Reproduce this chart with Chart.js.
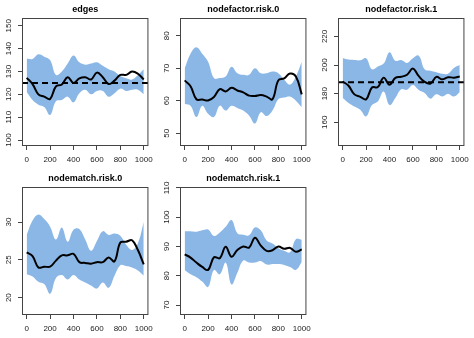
<!DOCTYPE html>
<html>
<head>
<meta charset="utf-8">
<title>Network diagnostics</title>
<script src="https://cdn.jsdelivr.net/npm/chart.js@4.4.1/dist/chart.umd.min.js"></script>
<style>
  html, body { margin: 0; padding: 0; background: #fff; }
  #grid { position: relative; width: 474px; height: 338px; }
  .panel { position: absolute; width: 158px; height: 169px; }
</style>
</head>
<body>
<div id="grid"></div>
<script>
// -------------------------------------------------------------
// DATA: smoothed mean and quantile band per statistic, every 50 steps
// -------------------------------------------------------------
const steps = [0, 50, 100, 150, 200, 250, 300, 350, 400, 450, 500,
               550, 600, 650, 700, 750, 800, 850, 900, 950, 1000];
const xTicks = [0, 200, 400, 600, 800, 1000];

const edgesMean = [127.2, 124.5, 120, 119, 118, 123.5, 124.3, 127.5, 125, 127, 127.5,
                   126.5, 129.5, 127.5, 124.5, 126, 128.5, 128.5, 130, 129, 126.5];
const edgesHi   = [135.7, 135.5, 137.5, 136.5, 135, 128.5, 130, 133.5, 137, 134, 133,
                   133.5, 134, 132.5, 131, 130, 128, 127, 126.5, 128.5, 131];
const edgesLo   = [121, 117.5, 115.5, 114.5, 111, 117, 117.5, 119, 116.5, 120.5, 122,
                   120, 121.5, 121.5, 119, 120.5, 122.5, 121.5, 122, 122, 120];
const edgesTarget = 125;
const edgesTicks = [100, 110, 120, 130, 140, 150];

const nf0Mean = [66.3, 64.5, 60.5, 60.4, 60.1, 61.2, 63.6, 62.9, 64, 63.2, 62.6,
                 61.6, 61.5, 61.8, 61.3, 60.5, 66.3, 66.9, 68.4, 67.5, 62];
const nf0Hi   = [70, 74.5, 76.5, 74.5, 72, 67, 67, 67.5, 70.5, 68.5, 68,
                 68, 70, 68.5, 68.5, 69, 68.5, 66.5, 65, 67.5, 72];
const nf0Lo   = [59, 58.5, 55, 58.5, 56, 55, 58.5, 57, 58.5, 57.8, 57,
                 55.5, 53, 56.5, 55.3, 57, 60.5, 61, 61.3, 60, 58];
const nf0Ticks = [50, 60, 70, 80];

const nf1Mean = [188.5, 185.5, 179.5, 177.8, 176, 184.3, 184.6, 191.2, 186.3, 191, 191.8,
                 193.2, 197.5, 192.2, 188.2, 187, 191.7, 190, 191.5, 191.2, 192];
const nf1Hi   = [205, 203.8, 203.5, 203.3, 204.8, 197, 199, 201, 209, 203, 203.5,
                 201.5, 204.8, 206.5, 197, 196, 195, 194, 194, 198, 200];
const nf1Lo   = [177, 173.5, 171, 168.7, 164, 172, 174.5, 181.5, 172, 177, 183,
                 182.7, 186, 182.5, 180.4, 176.5, 179.5, 178, 180, 178, 181];
const nf1Target = 188;
const nf1Ticks = [160, 180, 200, 220];

const nm0Mean = [26, 25.5, 24, 24.1, 24.1, 24.9, 25.6, 25.6, 25.8, 24.7, 24.6,
                 24.5, 24.7, 24.7, 25.3, 24.8, 27.3, 27.4, 27.6, 26.3, 24.4];
const nm0Hi   = [28.3, 30.2, 31, 30.4, 29.4, 27.7, 29.3, 27.4, 29, 29.1, 27.7,
                 26.2, 27.5, 28.8, 28.3, 28.5, 28.2, 27, 26.3, 27.2, 30];
const nm0Lo   = [23.1, 22.8, 22.1, 21.8, 20.5, 22.6, 23, 22.4, 23, 22.4, 22,
                 21.6, 21.2, 22, 21.3, 22.9, 24.3, 24.2, 24, 23.6, 22.9];
const nm0Ticks = [20, 25, 30];

const nm1Mean = [87.3, 86.2, 84.5, 83, 82, 86.3, 86, 89.9, 86.5, 88.8, 90,
                 89.6, 93, 90.3, 88.5, 88.7, 90, 89.2, 89.5, 88.2, 89];
const nm1Hi   = [95.2, 95.2, 95, 95.5, 95.8, 93.6, 94.8, 96.7, 99, 94.5, 94,
                 93.8, 96.5, 95.5, 92, 91, 89.5, 88.5, 88, 92.5, 92.3];
const nm1Lo   = [82, 80.5, 79.5, 78, 76.2, 82, 80.5, 84.5, 77, 81, 85.2,
                 84.5, 84.5, 85, 83.8, 84, 84, 83.7, 83, 82, 84.7];
const nm1Ticks = [70, 80, 90, 100, 110];

// R-style axis range: 4% padding on each side of 0..1000
const X_MIN = -40, X_MAX = 1040;

const panels = [
    { title: 'edges',             mean: edgesMean, hi: edgesHi, lo: edgesLo, target: edgesTarget, yTicks: edgesTicks, yMin: 97.4,  yMax: 153.4 },
    { title: 'nodefactor.risk.0', mean: nf0Mean,   hi: nf0Hi,   lo: nf0Lo,   target: null,        yTicks: nf0Ticks,   yMin: 46.1,  yMax: 85.5 },
    { title: 'nodefactor.risk.1', mean: nf1Mean,   hi: nf1Hi,   lo: nf1Lo,   target: nf1Target,   yTicks: nf1Ticks,   yMin: 143.4, yMax: 232.9 },
    { title: 'nodematch.risk.0',  mean: nm0Mean,   hi: nm0Hi,   lo: nm0Lo,   target: null,        yTicks: nm0Ticks,   yMin: 17.7,  yMax: 34.65 },
    { title: 'nodematch.risk.1',  mean: nm1Mean,   hi: nm1Hi,   lo: nm1Lo,   target: null,        yTicks: nm1Ticks,   yMin: 66.6,  yMax: 110.3 }
];

// -------------------------------------------------------------
// STYLE
// -------------------------------------------------------------
const FONT = "'Liberation Sans', Arial, Helvetica, sans-serif";
const BAND = 'rgb(139, 183, 230)';
const AXIS = '#444';
const TEXT = '#222';
const SMOOTH = 0.4;

// box around the plotting region, like R's box()
const framePlugin = {
    id: 'frame',
    afterDatasetsDraw(chart) {
        const a = chart.chartArea, ctx = chart.ctx;
        ctx.save();
        ctx.strokeStyle = AXIS;
        ctx.lineWidth = 1;
        ctx.strokeRect(a.left + 0.5, a.top + 0.5, a.right - a.left - 1, a.bottom - a.top - 1);
        ctx.restore();
    }
};

// y tick labels turned 90 degrees, centred on their ticks
const yLabelPlugin = {
    id: 'yLabels',
    afterDraw(chart) {
        const y = chart.scales.y, ctx = chart.ctx;
        ctx.save();
        ctx.font = '8px ' + FONT;
        ctx.fillStyle = TEXT;
        ctx.textAlign = 'center';
        ctx.textBaseline = 'middle';
        y.ticks.forEach(t => {
            ctx.save();
            ctx.translate(chart.chartArea.left - 12.8, y.getPixelForValue(t.value));
            ctx.rotate(-Math.PI / 2);
            ctx.fillText(String(t.value), 0, 0);
            ctx.restore();
        });
        ctx.restore();
    }
};

const toPoints = arr => arr.map((v, k) => ({ x: steps[k], y: v }));

const tickGrid = {
    display: true, drawOnChartArea: false, drawTicks: true,
    tickLength: 4, color: AXIS, lineWidth: 1
};

const grid = document.getElementById('grid');

panels.forEach((p, i) => {
    const box = document.createElement('div');
    box.className = 'panel';
    box.style.left = (i % 3) * 158 + 'px';
    box.style.top = Math.floor(i / 3) * 169 + 'px';
    const canvas = document.createElement('canvas');
    canvas.width = 158;
    canvas.height = 169;
    box.appendChild(canvas);
    grid.appendChild(box);

    const datasets = [];
    if (p.target !== null) {
        datasets.push({
            data: [{ x: X_MIN, y: p.target }, { x: X_MAX, y: p.target }],
            borderColor: '#000', borderWidth: 2, borderDash: [6, 4],
            pointRadius: 0, fill: false
        });
    }
    datasets.push({
        data: toPoints(p.mean),
        borderColor: '#000', borderWidth: 2, pointRadius: 0,
        tension: SMOOTH, fill: false
    });
    // quantile band: upper edge filled down to the lower edge
    datasets.push({
        data: toPoints(p.hi),
        borderColor: 'rgba(0,0,0,0)', borderWidth: 0, pointRadius: 0,
        backgroundColor: BAND, fill: '+1', tension: SMOOTH
    });
    datasets.push({
        data: toPoints(p.lo),
        borderColor: 'rgba(0,0,0,0)', borderWidth: 0, pointRadius: 0,
        fill: false, tension: SMOOTH
    });

    new Chart(canvas, {
        type: 'line',
        data: { datasets: datasets },
        plugins: [framePlugin, yLabelPlugin],
        options: {
            responsive: false,
            animation: false,
            events: [],
            layout: { padding: { left: 0, right: 9, top: 0, bottom: 0 } },
            scales: {
                x: {
                    type: 'linear', min: X_MIN, max: X_MAX,
                    afterBuildTicks: s => { s.ticks = xTicks.map(v => ({ value: v })); },
                    afterFit: s => { s.height = 23; },
                    grid: tickGrid,
                    border: { display: false },
                    ticks: {
                        font: { family: FONT, size: 8 }, color: TEXT,
                        padding: 5, maxRotation: 0, autoSkip: false,
                        callback: v => String(v)
                    }
                },
                y: {
                    type: 'linear', min: p.yMin, max: p.yMax,
                    afterBuildTicks: s => { s.ticks = p.yTicks.map(v => ({ value: v })); },
                    afterFit: s => { s.width = 22; },
                    grid: tickGrid,
                    border: { display: false },
                    ticks: { display: false }
                }
            },
            plugins: {
                legend: { display: false },
                tooltip: { enabled: false },
                filler: { drawTime: 'beforeDatasetsDraw' },
                title: {
                    display: true, text: p.title, fullSize: false,
                    color: '#000', font: { family: FONT, size: 9, weight: 'bold' },
                    padding: { top: 4, bottom: 3.2 }
                }
            }
        }
    });
});
</script>
</body>
</html>
